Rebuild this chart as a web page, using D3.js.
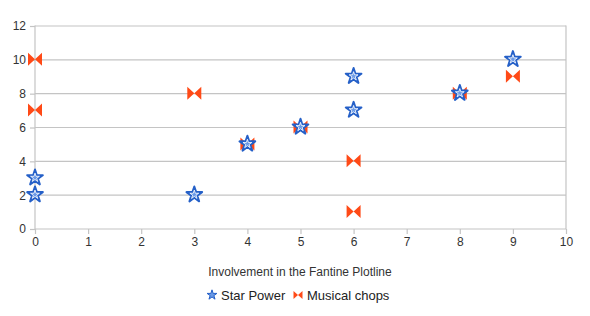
<!DOCTYPE html>
<html>
<head>
<meta charset="utf-8">
<script src="https://cdn.jsdelivr.net/npm/d3@7"></script>
<style>
  body { margin: 0; background: #fff; }
  text { font-family: "Liberation Sans", Arial, sans-serif; }
</style>
</head>
<body>
<svg id="chart" width="590" height="316"></svg>
<script>
const starX        = [0, 0, 3, 4, 5, 6, 6, 8, 9];
const starPower    = [3, 2, 2, 5, 6, 9, 7, 8, 10];
const chopsX       = [0, 0, 3, 4, 5, 6, 6, 8, 9];
const musicalChops = [10, 7, 8, 5, 6, 4, 1, 8, 9];
const xTicks = [0, 1, 2, 3, 4, 5, 6, 7, 8, 9, 10];
const yTicks = [0, 2, 4, 6, 8, 10, 12];
const seriesNames = ["Star Power", "Musical chops"];

const svg = d3.select("#chart");
const plot = { left: 35, right: 566, top: 25.5, bottom: 228.5 };

const x = d3.scaleLinear().domain([0, 10]).range([plot.left, plot.right]);
const y = d3.scaleLinear().domain([0, 12]).range([plot.bottom, plot.top]);

const gridColor = "#c4c4c4";
const textColor = "#333333";

// horizontal grid lines
svg.append("g")
    .selectAll("line")
    .data(yTicks)
    .join("line")
    .attr("x1", plot.left).attr("x2", plot.right)
    .attr("y1", d => y(d) + 0.5).attr("y2", d => y(d) + 0.5)
    .attr("stroke", gridColor)
    .attr("stroke-width", 1.2);

// left and right borders
[0, 10].forEach(v => {
    svg.append("line")
        .attr("x1", x(v)).attr("x2", x(v))
        .attr("y1", plot.top).attr("y2", plot.bottom + 0.5)
        .attr("stroke", gridColor)
        .attr("stroke-width", 1.2);
});

// x axis
const xAxis = svg.append("g")
    .attr("transform", `translate(0,${plot.bottom + 0.5})`)
    .call(d3.axisBottom(x).tickValues(xTicks).tickSize(5).tickPadding(3).tickFormat(d3.format("d")));
xAxis.select(".domain").remove();
xAxis.selectAll("line").attr("stroke", gridColor).attr("stroke-width", 1.2);
xAxis.selectAll("text").attr("fill", textColor).style("font-size", "12px")
    .style("font-family", "'Liberation Sans', Arial, sans-serif");

// y axis
const yAxis = svg.append("g")
    .attr("transform", `translate(${plot.left},0.5)`)
    .call(d3.axisLeft(y).tickValues(yTicks).tickSize(5).tickPadding(4).tickFormat(d3.format("d")));
yAxis.select(".domain").remove();
yAxis.selectAll("line").attr("stroke", gridColor).attr("stroke-width", 1.2);
yAxis.selectAll("text").attr("fill", textColor).style("font-size", "12px")
    .style("font-family", "'Liberation Sans', Arial, sans-serif");

// marker shapes
const starPath = d3.symbol(d3.symbolStar, 76)();
const bowPath = "M-7,-6.5L0,0L-7,6.5Z M7,-6.5L0,0L7,6.5Z";
const blue = "#2560c8", blueFill = "#6b9ae6", red = "#ff4a17";

function drawStar(g) {
    g.append("path").attr("d", starPath)
        .attr("fill", blueFill)
        .attr("stroke", blue)
        .attr("stroke-width", 2)
        .attr("stroke-linejoin", "round");
    g.append("path").attr("d", d3.symbol(d3.symbolStar, 24)())
        .attr("fill", "none")
        .attr("stroke", "#ffffff")
        .attr("stroke-width", 0.8);
}
function drawBow(g) {
    g.append("path").attr("d", bowPath).attr("fill", red);
}

// Musical chops first, stars on top
svg.append("g")
    .selectAll("g")
    .data(musicalChops.map((v, i) => ({ x: chopsX[i], y: v })))
    .join("g")
    .attr("transform", d => `translate(${x(d.x)},${y(d.y)})`)
    .each(function () { drawBow(d3.select(this)); });

svg.append("g")
    .selectAll("g")
    .data(starPower.map((v, i) => ({ x: starX[i], y: v })))
    .join("g")
    .attr("transform", d => `translate(${x(d.x)},${y(d.y)})`)
    .each(function () { drawStar(d3.select(this)); });

// axis title
svg.append("text")
    .attr("x", 300).attr("y", 276)
    .attr("text-anchor", "middle")
    .attr("fill", textColor)
    .style("font-size", "12px")
    .text("Involvement in the Fantine Plotline");

// legend
const leg1 = svg.append("g").attr("transform", "translate(212,295)");
leg1.append("path").attr("d", d3.symbol(d3.symbolStar, 30)())
    .attr("fill", blueFill).attr("stroke", blue).attr("stroke-width", 1);
leg1.append("text").attr("x", 9).attr("y", 4.5)
    .attr("fill", "#222").style("font-size", "13px").text(seriesNames[0]);

const leg2 = svg.append("g").attr("transform", "translate(298,295)");
leg2.append("path").attr("d", "M-4.5,-4L0,0L-4.5,4Z M4.5,-4L0,0L4.5,4Z").attr("fill", red);
leg2.append("text").attr("x", 9).attr("y", 4.5)
    .attr("fill", "#222").style("font-size", "13px").text(seriesNames[1]);
</script>
</body>
</html>
